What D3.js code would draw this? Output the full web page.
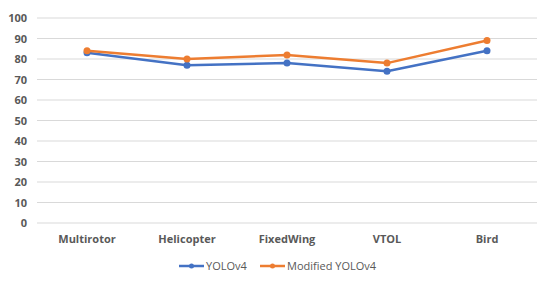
<!DOCTYPE html>
<html>
<head>
<meta charset="utf-8">
<script src="https://cdn.jsdelivr.net/npm/d3@7"></script>
<style>
  body { margin: 0; background: #fff; }
  svg { display: block; font-family: "Open Sans", "Liberation Sans", sans-serif; }
</style>
</head>
<body>
<svg id="chart" width="550" height="284"></svg>
<script>
const categories = ['Multirotor', 'Helicopter', 'FixedWing', 'VTOL', 'Bird'];
const yolov4 = [83, 77, 78, 74, 84];
const modifiedYolov4 = [84, 80, 82, 78, 89];
const yTicks = [0, 10, 20, 30, 40, 50, 60, 70, 80, 90, 100];

const series = [
  { label: 'YOLOv4', color: '#4472C4', values: yolov4 },
  { label: 'Modified YOLOv4', color: '#ED7D31', values: modifiedYolov4 }
];

const svg = d3.select('#chart');
const margin = { left: 37, right: 13, top: 18, bottom: 61 };
const width = 550 - margin.left - margin.right;
const height = 284 - margin.top - margin.bottom;

const g = svg.append('g').attr('transform', `translate(${margin.left},${margin.top})`);

const x = d3.scaleBand().domain(categories).range([0, width]);
const y = d3.scaleLinear().domain([0, 100]).range([height, 0]);

// gridlines
g.append('g')
  .selectAll('line')
  .data(yTicks)
  .join('line')
  .attr('x1', 0)
  .attr('x2', width)
  .attr('y1', d => y(d))
  .attr('y2', d => y(d))
  .attr('stroke', '#d9d9d9')
  .attr('stroke-width', 1);

// y axis labels
const yAxis = g.append('g')
  .call(d3.axisLeft(y).tickValues(yTicks).tickSize(0).tickPadding(10));
yAxis.select('.domain').remove();
yAxis.selectAll('text')
  .attr('fill', '#595959')
  .attr('font-size', 11)
  .attr('font-weight', 'bold')
  .attr('font-family', '"Open Sans", sans-serif');

// x axis labels
const xAxis = g.append('g')
  .attr('transform', `translate(0,${height})`)
  .call(d3.axisBottom(x).tickSize(0).tickPadding(12));
xAxis.select('.domain').remove();
xAxis.selectAll('text')
  .attr('fill', '#595959')
  .attr('font-size', 11)
  .attr('font-weight', 'bold')
  .attr('font-family', '"Open Sans", sans-serif');

const line = d3.line()
  .x((d, i) => x(categories[i]) + x.bandwidth() / 2)
  .y(d => y(d));

series.forEach(s => {
  const sg = g.append('g');
  sg.append('path')
    .datum(s.values)
    .attr('fill', 'none')
    .attr('stroke', s.color)
    .attr('stroke-width', 2.5)
    .attr('stroke-linejoin', 'round')
    .attr('stroke-linecap', 'round')
    .attr('d', line);
  sg.selectAll('circle')
    .data(s.values)
    .join('circle')
    .attr('cx', (d, i) => x(categories[i]) + x.bandwidth() / 2)
    .attr('cy', d => y(d))
    .attr('r', 3.5)
    .attr('fill', s.color);
});

// legend
const legend = svg.append('g').attr('transform', 'translate(179,266)');
const legendX = [0, 81];
series.forEach((s, i) => {
  const lg = legend.append('g').attr('transform', `translate(${legendX[i]},0)`);
  lg.append('line')
    .attr('x1', 0).attr('x2', 25)
    .attr('stroke', s.color).attr('stroke-width', 2.5);
  lg.append('circle').attr('cx', 12.5).attr('r', 2.5).attr('fill', s.color);
  lg.append('text')
    .attr('x', 27)
    .attr('dy', '0.35em')
    .attr('fill', '#595959')
    .attr('font-size', 11)
    .text(s.label);
});
</script>
</body>
</html>
